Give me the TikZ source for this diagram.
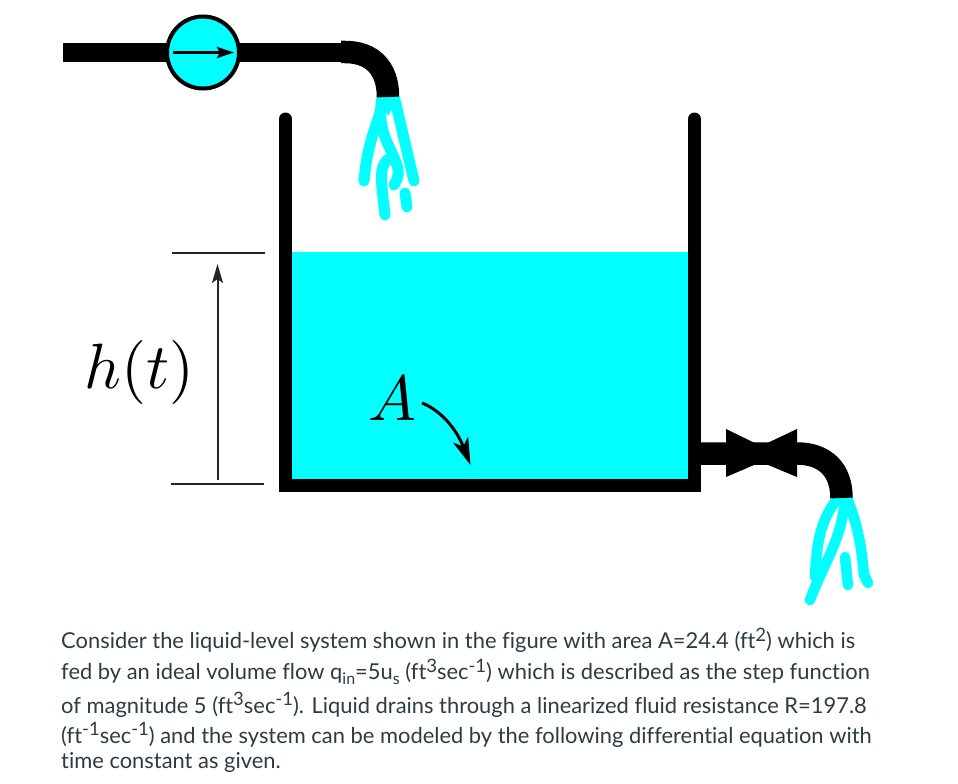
\documentclass[tikz,border=0pt]{standalone}
\usepackage{graphicx}
\usepackage{fontspec}
\setmainfont{Lato}[Ligatures=CommonOff]
\usetikzlibrary{arrows.meta}
\definecolor{water}{RGB}{0,255,255}
\definecolor{txt}{RGB}{45,59,69}
\newcommand{\upt}[1]{\raisebox{7.5pt}{\fontsize{18.5}{18.5}\selectfont #1}}
\newcommand{\dnt}[1]{\raisebox{-4.5pt}{\fontsize{16}{16}\selectfont #1}}
\tikzset{
  wall/.style={line width=13pt,black},
  pipe/.style={line width=19.5pt,black,line cap=butt},
  elbow/.style={line width=22.5pt,black,line cap=butt},
  spray/.style={line width=11pt,water,line cap=round,line join=round},
  dimline/.style={line width=2pt,black!85},
  para/.style={anchor=base west,inner sep=0pt,text=txt,font=\fontsize{21.9}{24}\selectfont},
  lbl/.style={inner sep=0pt,scale=6.4},
}
\begin{document}
\begin{tikzpicture}[x=1pt,y=-1pt]
\useasboundingbox (0,0) rectangle (958,784);
% inlet spray
\fill[water] (378,96) -- (399,96) -- (388,116) -- cycle;
\draw[spray] (383,98) .. controls (380,122) and (368,135) .. (364,181);
\draw[spray] (382,98) .. controls (376,130) and (390,145) .. (397,165) .. controls (400,175) and (397,180) .. (394,185);
\draw[spray] (394.5,98) -- (414,181);
\draw[spray] (390,158) .. controls (378,165) and (381,180) .. (385,215);
\draw[spray] (405,193) -- (407,207);
% inlet pipe
\coordinate (pipeA) at (63,52.5);
\coordinate (pipeB) at (341,52.5);
\coordinate (pipeC) at (388,97);
\draw[pipe] (pipeA) -- (pipeB);
\draw[elbow] (pipeB) ++(0,-0.5) -- ++(4,0) .. controls (372,52) and (388,68) .. (pipeC);
\node[circle,draw=black,fill=water,line width=4pt,minimum size=72pt,inner sep=0pt] (pump) at (203,52.5) {};
\coordinate (pumpL) at (173,52.5);
\coordinate (pumpR) at (234,52.5);
\draw[line width=3.5pt,-{Stealth[length=17pt,width=11pt,inset=3pt]}] (pumpL) -- (pumpR);
% tank
\fill[water] (290,252) rectangle (690,480);
\coordinate (tl) at (285.5,119);
\coordinate (tr) at (694.5,119);
\draw[wall,line cap=round] (tl) -- (285.5,478);
\draw[wall,line cap=round] (tr) -- (694.5,478);
\draw[wall,line cap=butt] (279,485) -- (701,485);
% outlet spray
\fill[water] (832,496) -- (852,496) -- (843,514) -- cycle;
\draw[spray,line width=10.5pt] (838,498) .. controls (825,515) and (817,530) .. (815,577);
\draw[spray,line width=10.5pt] (845,498) .. controls (842,540) and (825,560) .. (810,600);
\draw[spray,line width=10.5pt] (847,498) .. controls (860,530) and (862,555) .. (864,575) -- (868,583);
\draw[spray,line width=10.5pt] (845,557) -- (848,585);
% outlet pipe and valve
\coordinate (outA) at (701,453.5);
\coordinate (outB) at (797,453.5);
\coordinate (outC) at (841.5,498);
\draw[elbow] (outA) -- (outB) .. controls (825,453.5) and (841.5,470) .. (outC);
\fill[black] (726,429) -- (761,446) -- (797,429) -- (797,477) -- (761,462) -- (726,477) -- cycle;
% height dimension
\coordinate (d1a) at (172,253);
\coordinate (d1b) at (265,253);
\coordinate (d2a) at (171,484);
\coordinate (d2b) at (264,484);
\coordinate (arA) at (217.5,480);
\coordinate (arB) at (217.5,264);
\draw[dimline] (d1a) -- (d1b);
\draw[dimline] (d2a) -- (d2b);
\draw[dimline,-{Stealth[length=19pt,width=11pt,inset=4pt]}] (arA) -- (arB);
\node[lbl] (h) at (139.5,372) {$h(t)$};
% area label
\node[lbl,anchor=center] (A) at (392,399) {$A$};
\coordinate (aS) at (422,403);
\coordinate (aE) at (470.5,465);
\draw[line width=3pt,-{Stealth[length=27pt,width=16pt,inset=7pt]}] (aS) .. controls (440,410) and (456,428) .. (aE);
% paragraph
\node[para] (l1) at (61,648.8) {Consider the liquid-level system shown in the figure with area A=24.4 (ft\upt{2}) which is};
\node[para] (l2) at (61,679.8) {fed by an ideal volume flow q\dnt{in}=5u\dnt{s} (ft\upt{3}sec\upt{-1}) which is described as the step function};
\node[para] (l3) at (61,713.3) {of magnitude 5 (ft\upt{3}sec\upt{-1}). Liquid drains through a linearized fluid resistance R=197.8};
\node[para] (l4) at (61,743.3) {(ft\upt{-1}sec\upt{-1}) and the system can be modeled by the following differential equation with};
\node[para] (l5) at (61,768.3) {time constant as given.};
\end{tikzpicture}
\end{document}
